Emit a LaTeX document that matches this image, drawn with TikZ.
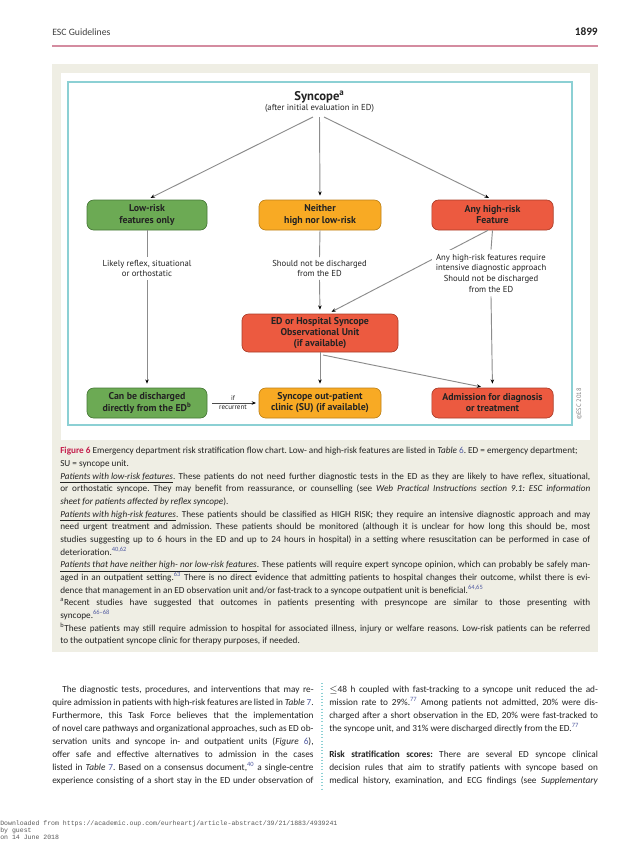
\documentclass[tikz,border=0pt]{standalone}
\usepackage{fontspec}
\setmainfont{Carlito}
\newfontfamily\dg{PT Sans}
\newfontfamily\mono{Liberation Mono}
\usetikzlibrary{arrows.meta}
\definecolor{beige}{RGB}{239,238,228}
\definecolor{cyanb}{RGB}{140,208,212}
\definecolor{gfill}{RGB}{108,170,84}
\definecolor{gdraw}{RGB}{70,120,55}
\definecolor{ofill}{RGB}{248,170,36}
\definecolor{odraw}{RGB}{190,130,25}
\definecolor{rfill}{RGB}{236,90,64}
\definecolor{rdraw}{RGB}{170,60,40}
\definecolor{pinkl}{RGB}{212,140,160}
\definecolor{figred}{RGB}{196,30,76}
\definecolor{refblue}{RGB}{80,90,160}
\definecolor{linegray}{RGB}{140,140,140}
\definecolor{txt}{RGB}{35,35,35}
\newlength\capw \setlength\capw{397.5pt}
\newlength\colLw \setlength\colLw{196pt}
\newlength\colRw \setlength\colRw{201.5pt}
\newcommand{\jline}[2]{\makebox[#1][s]{#2}}
\newcommand{\rf}[1]{\textsuperscript{\textcolor{refblue}{#1}}}
\frenchspacing
\tikzset{
  box/.style={rounded corners=5pt, draw, line width=0.5pt, align=center,
    font=\dg\bfseries\fontsize{7.4}{8.3}\selectfont, text=txt, inner sep=0pt,
    minimum height=22.5pt},
  gbox/.style={box, fill=gfill, draw=gdraw},
  obox/.style={box, fill=ofill, draw=odraw},
  rbox/.style={box, fill=rfill, draw=rdraw},
  lab/.style={font=\dg\fontsize{6.5}{8}\selectfont, align=center, text=txt, inner sep=2pt},
  conn/.style={draw=linegray, line width=0.7pt},
  arr/.style={conn, -{Stealth[length=3.2pt, width=2.6pt, color=black]}, shorten >=3pt},
  captext/.style={anchor=north west, inner sep=0pt, align=left, font=\frenchspacing\fontsize{6.9}{9.5}\selectfont, text=txt},
  bodytext/.style={anchor=north west, inner sep=0pt, align=left, font=\frenchspacing\fontsize{6.95}{9.75}\selectfont, text=txt},
}
\begin{document}
\begin{tikzpicture}[x=0.75pt, y=-0.75pt]
\path[fill=white] (0,0) rectangle (638,851);
\useasboundingbox (0,0) rectangle (638,851);
% header
\node[anchor=base west, inner sep=0pt, font=\fontsize{7.3}{9}\selectfont, text=black!75] (hdl) at (52,35) {ESC Guidelines};
\node[anchor=base east, inner sep=0pt, font=\bfseries\fontsize{8.5}{10}\selectfont, text=txt] (hdr) at (598,35) {1899};
\draw[pinkl, line width=0.8pt] (52,46) -- (598,46);
% figure panel
\fill[beige] (52,64) rectangle (598,652);
\fill[white] (61,73) rectangle (590,440);
\draw[cyanb, line width=1.1pt] (68,82) rectangle (572,425);
% title
\node[inner sep=0pt, font=\dg\bfseries\fontsize{9.5}{11}\selectfont, text=txt] (syn) at (319.5,97) {Syncope\textsuperscript{a}};
\node[inner sep=0pt, font=\dg\fontsize{6.5}{8}\selectfont, text=txt] (synsub) at (319.5,108.5) {(after initial evaluation in ED)};
\coordinate (sa) at (313,117);
\coordinate (sb) at (319.5,117);
\coordinate (sc) at (324,117);
% row 1
\node[gbox, minimum width=90pt] (low) at (147,215) {Low-risk\\features only};
\node[obox, minimum width=91.5pt] (neither) at (320,215) {Neither\\high nor low-risk};
\node[rbox, minimum width=91pt] (high) at (492.5,215) {Any high-risk\\Feature};
\draw[arr] (sa) -- (low.north);
\draw[arr] (sb) -- (neither.north);
\draw[arr] (sc) -- (high.north);
% middle box and row 3
\node[rbox, minimum width=117pt, minimum height=28.5pt] (obs) at (320,333) {ED or Hospital Syncope\\Observational Unit\\(if available)};
\node[gbox, minimum width=90pt] (lowbot) at (147,403) {Can be discharged\\directly from the ED\textsuperscript{b}};
\node[obox, minimum width=91.5pt] (midbot) at (320,403) {Syncope out-patient\\clinic (SU) (if available)};
\node[rbox, minimum width=91pt] (highbot) at (492.5,403) {Admission for diagnosis\\or treatment};
% diagonal from high-risk to observation unit (behind label)
\draw[arr] ([xshift=-3.4pt]high.south) -- ([xshift=6pt]obs.north);
% labels
\node[lab] (lowlab) at (147,268.5) {Likely reflex, situational\\or orthostatic};
\node[lab] (midlab) at (319.5,268.5) {Should not be discharged\\from the ED};
\node[lab, fill=white, inner sep=3pt] (highlab) at (491,273) {Any high-risk features require\\intensive diagnostic approach\\Should not be discharged\\from the ED};
% vertical connectors
\draw[conn] (low.south) -- (lowlab.north);
\draw[arr] (lowlab.south) -- (lowbot.north);
\draw[conn] (neither.south) -- (midlab.north);
\draw[arr] (midlab.south) -- (obs.north);
\draw[conn] (high.south) -- (highlab.north);
\draw[arr] (highlab.south) -- (highbot.north);
\draw[arr] (obs.south) -- (midbot.north);
\draw[arr] ([xshift=2.25pt,yshift=-2pt]obs.south) -- ([xshift=-5.6pt]highbot.north);
\draw[arr, draw=black!70, line width=0.5pt, shorten <=3.5pt, shorten >=2pt] (lowbot.east) -- (midbot.west)
  node[midway, above, inner sep=1.5pt, font=\dg\fontsize{5}{6}\selectfont, text=txt] (iflab) {if}
  node[midway, below, inner sep=1.5pt, font=\dg\fontsize{5.3}{6}\selectfont, text=txt] (reclab) {recurrent};
\node[rotate=90, inner sep=0pt, font=\dg\fontsize{4.8}{5}\selectfont, text=gray] (escc) at (579,404) {\textcopyright ESC 2018};
% caption
\node[captext] (cap) at (60,447) {%
\textcolor{figred}{\textbf{Figure 6}} Emergency department risk stratification flow chart. Low- and high-risk features are listed in \textit{Table} \textcolor{refblue}{6}. ED = emergency department;\\
SU = syncope unit.\\
\jline{\capw}{\underline{\textit{Patients with low-risk features}}. These patients do not need further diagnostic tests in the ED as they are likely to have reflex, situational,}\\
\jline{\capw}{or orthostatic syncope. They may benefit from reassurance, or counselling (see \textit{Web Practical Instructions section 9.1: ESC information}}\\
\textit{sheet for patients affected by reflex syncope}).\\
\jline{\capw}{\underline{\textit{Patients with high-risk features}}. These patients should be classified as HIGH RISK; they require an intensive diagnostic approach and may}\\
\jline{\capw}{need urgent treatment and admission. These patients should be monitored (although it is unclear for how long this should be, most}\\
\jline{\capw}{studies suggesting up to 6 hours in the ED and up to 24 hours in hospital) in a setting where resuscitation can be performed in case of}\\
deterioration.\rf{40,62}\\
\jline{\capw}{\underline{\textit{Patients that have neither high- nor low-risk features}}. These patients will require expert syncope opinion, which can probably be safely man-}\\
\jline{\capw}{aged in an outpatient setting.\rf{63} There is no direct evidence that admitting patients to hospital changes their outcome, whilst there is evi-}\\
dence that management in an ED observation unit and/or fast-track to a syncope outpatient unit is beneficial.\rf{64,65}\\
\jline{\capw}{\textsuperscript{a}Recent studies have suggested that outcomes in patients presenting with presyncope are similar to those presenting with}\\
syncope.\rf{66--68}\\
\jline{\capw}{\textsuperscript{b}These patients may still require admission to hospital for associated illness, injury or welfare reasons. Low-risk patients can be referred}\\
to the outpatient syncope clinic for therapy purposes, if needed.};
% body columns
\node[bodytext] (colL) at (52,686) {%
\jline{\colLw}{\hspace*{7.5pt}The diagnostic tests, procedures, and interventions that may re-}\\
\jline{\colLw}{quire admission in patients with high-risk features are listed in \textit{Table} \textcolor{refblue}{7}.}\\
\jline{\colLw}{Furthermore, this Task Force believes that the implementation}\\
\jline{\colLw}{of novel care pathways and organizational approaches, such as ED ob-}\\
\jline{\colLw}{servation units and syncope in- and outpatient units (\textit{Figure} \textcolor{refblue}{6}),}\\
\jline{\colLw}{offer safe and effective alternatives to admission in the cases}\\
\jline{\colLw}{listed in \textit{Table} \textcolor{refblue}{7}. Based on a consensus document,\rf{40} a single-centre}\\
\jline{\colLw}{experience consisting of a short stay in the ED under observation of}};
\draw[cyanb, line width=1pt, dash pattern=on 0.8pt off 1.6pt] (322,683) -- (322,790);
\node[bodytext] (colR) at (329,686) {%
\jline{\colRw}{\(\leq\)48 h coupled with fast-tracking to a syncope unit reduced the ad-}\\
\jline{\colRw}{mission rate to 29\%.\rf{77} Among patients not admitted, 20\% were dis-}\\
\jline{\colRw}{charged after a short observation in the ED, 20\% were fast-tracked to}\\
the syncope unit, and 31\% were discharged directly from the ED.\rf{77}\\
\mbox{}\\
\jline{\colRw}{\textbf{Risk stratification scores:} There are several ED syncope clinical}\\
\jline{\colRw}{decision rules that aim to stratify patients with syncope based on}\\
\jline{\colRw}{medical history, examination, and ECG findings (see \textit{Supplementary}}};
% footer
\node[anchor=north west, inner sep=0pt, align=left, font=\mono\fontsize{4.9}{5.25}\selectfont, text=black!65] (foot) at (0,820) {Downloaded from https://academic.oup.com/eurheartj/article-abstract/39/21/1883/4939241\\by guest\\on 14 June 2018};
\end{tikzpicture}
\end{document}
